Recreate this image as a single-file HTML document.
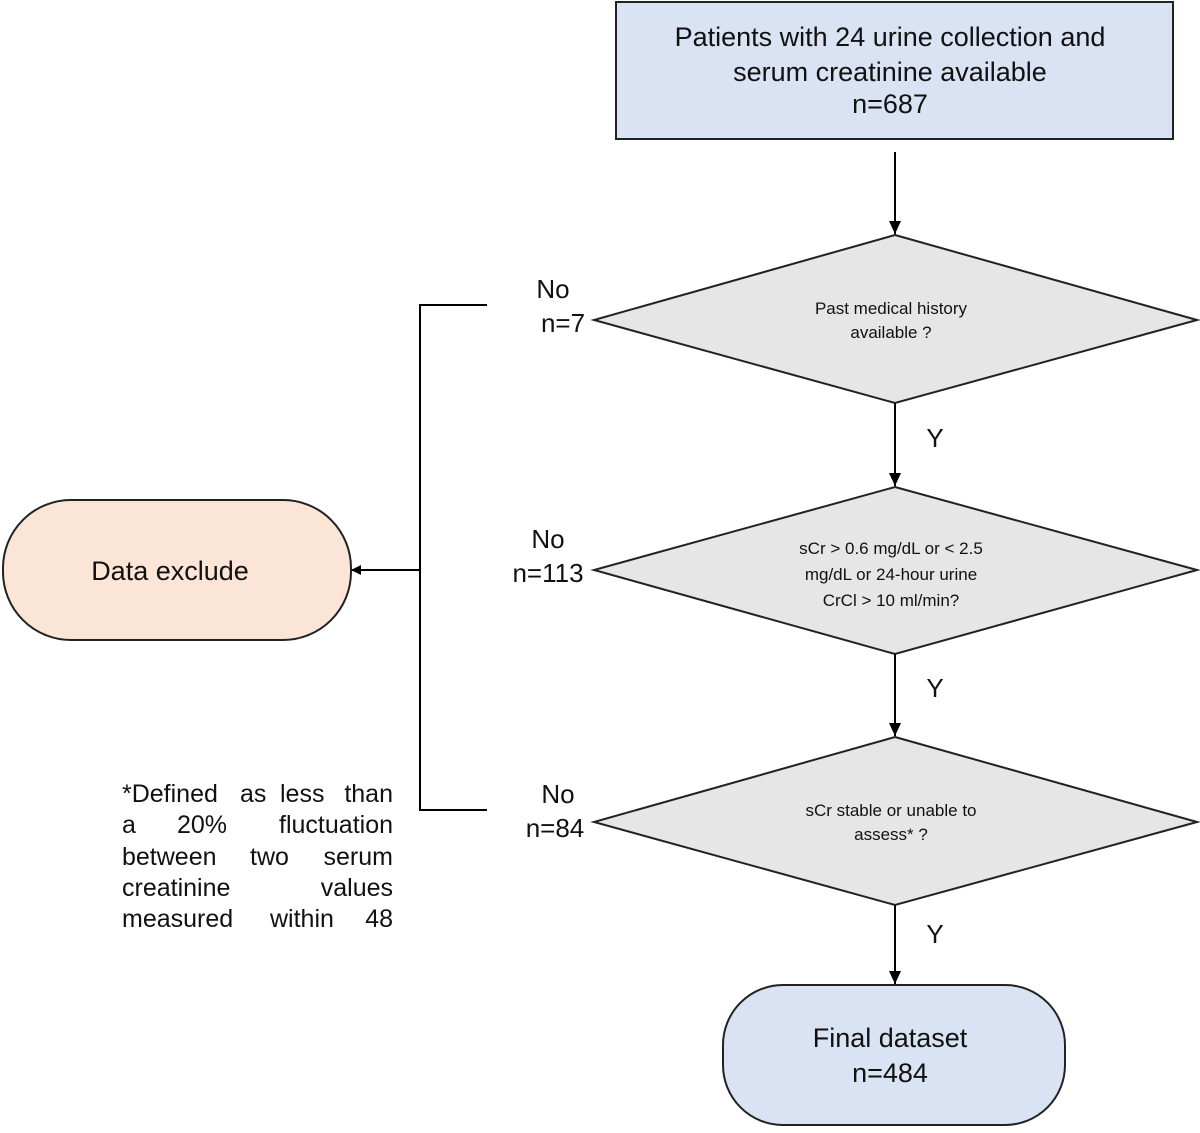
<!DOCTYPE html>
<html><head><style>
body{margin:0;background:#fff;}
svg text{font-family:"Liberation Sans",Arial,sans-serif;fill:#111;}
</style></head><body>
<svg width="1200" height="1128" viewBox="0 0 1200 1128" xmlns="http://www.w3.org/2000/svg">
<defs><marker id="a" markerWidth="10" markerHeight="10" refX="9" refY="5" orient="auto" markerUnits="userSpaceOnUse"><path d="M0,0 L10,5 L0,10 z" fill="#000"/></marker>
<marker id="b" markerWidth="14" markerHeight="14" refX="13" refY="6" orient="auto" markerUnits="userSpaceOnUse"><path d="M0,0 L13,6 L0,12 z" fill="#000"/></marker></defs>
<rect x="616" y="2" width="557" height="137" fill="#dae3f3" stroke="#222" stroke-width="2"/>
<text x="890" y="46" font-size="27" text-anchor="middle">Patients with 24 urine collection and</text>
<text x="890" y="81" font-size="27" text-anchor="middle">serum creatinine available</text>
<text x="890" y="113" font-size="27" text-anchor="middle">n=687</text>
<line x1="895" y1="152" x2="895" y2="234" stroke="#000" stroke-width="2" marker-end="url(#b)"/>
<polygon points="895,235 1197,320 895,403 594,320" fill="#e6e6e6" stroke="#222" stroke-width="2"/>
<text x="891" y="314" font-size="17" text-anchor="middle">Past medical history</text>
<text x="891" y="338" font-size="17" text-anchor="middle">available ?</text>
<line x1="895" y1="403" x2="895" y2="486" stroke="#000" stroke-width="2" marker-end="url(#b)"/>
<polygon points="895,487 1197,570 895,654 594,570" fill="#e6e6e6" stroke="#222" stroke-width="2"/>
<text x="891" y="554" font-size="17" text-anchor="middle">sCr &gt; 0.6 mg/dL or &lt; 2.5</text>
<text x="891" y="580" font-size="17" text-anchor="middle">mg/dL or 24-hour urine</text>
<text x="891" y="606" font-size="17" text-anchor="middle">CrCl &gt; 10 ml/min?</text>
<line x1="895" y1="654" x2="895" y2="736" stroke="#000" stroke-width="2" marker-end="url(#b)"/>
<polygon points="895,737 1197,822 895,905 594,822" fill="#e6e6e6" stroke="#222" stroke-width="2"/>
<text x="891" y="816" font-size="17" text-anchor="middle">sCr stable or unable to</text>
<text x="891" y="840" font-size="17" text-anchor="middle">assess* ?</text>
<line x1="895" y1="905" x2="895" y2="984" stroke="#000" stroke-width="2" marker-end="url(#b)"/>
<rect x="723" y="985" width="342" height="140" rx="60" fill="#dae3f3" stroke="#222" stroke-width="2"/>
<text x="890" y="1047" font-size="27" text-anchor="middle">Final dataset</text>
<text x="890" y="1082" font-size="27" text-anchor="middle">n=484</text>
<rect x="3" y="500" width="348" height="140" rx="68" fill="#fbe5d6" stroke="#222" stroke-width="2"/>
<text x="170" y="580" font-size="27" text-anchor="middle">Data exclude</text>
<polyline points="487,305 420,305 420,810 487,810" fill="none" stroke="#000" stroke-width="2"/>
<line x1="420" y1="570" x2="352" y2="570" stroke="#000" stroke-width="2" marker-end="url(#a)"/>
<text x="553" y="298" font-size="26" text-anchor="middle">No</text>
<text x="563" y="332" font-size="26" text-anchor="middle">n=7</text>
<text x="548" y="548" font-size="26" text-anchor="middle">No</text>
<text x="548" y="582" font-size="26" text-anchor="middle">n=113</text>
<text x="558" y="803" font-size="26" text-anchor="middle">No</text>
<text x="555" y="837" font-size="26" text-anchor="middle">n=84</text>
<text x="935" y="447" font-size="26" text-anchor="middle">Y</text>
<text x="935" y="697" font-size="26" text-anchor="middle">Y</text>
<text x="935" y="943" font-size="26" text-anchor="middle">Y</text>
<g font-size="25">
<text x="122" y="802">*Defined</text><text x="240" y="802">as</text><text x="280" y="802">less</text><text x="393" y="802" text-anchor="end">than</text>
<text x="122" y="833">a</text><text x="177" y="833">20%</text><text x="393" y="833" text-anchor="end">fluctuation</text>
<text x="122" y="865">between</text><text x="250" y="865">two</text><text x="393" y="865" text-anchor="end">serum</text>
<text x="122" y="896">creatinine</text><text x="393" y="896" text-anchor="end">values</text>
<text x="122" y="927">measured</text><text x="270" y="927">within</text><text x="393" y="927" text-anchor="end">48</text>
</g>
</svg>
</body></html>
